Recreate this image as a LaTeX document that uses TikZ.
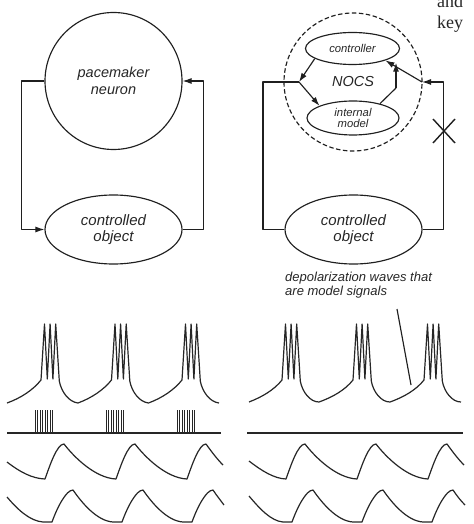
\documentclass[tikz,border=0pt]{standalone}
\usepackage{fontspec}
\setmainfont{Liberation Serif}
\setsansfont{Liberation Sans}
\usetikzlibrary{shapes.geometric,arrows.meta,calc}
\begin{document}
\begin{tikzpicture}[x=1bp,y=-1bp,line join=round,
  ln/.style={line width=1.15bp,draw=black!88},
  arr/.style={ln,-{Latex[length=9bp,width=6bp]}},
  wave/.style={line width=1.2bp,draw=black!85,line join=round},
  big/.style={font=\sffamily\itshape\fontsize{14.5bp}{17bp}\selectfont,text=black!85,align=center,inner sep=0pt},
  co/.style={big,font=\sffamily\itshape\fontsize{15bp}{16bp}\selectfont},
  small/.style={font=\sffamily\itshape\fontsize{11.3bp}{11bp}\selectfont,text=black!85,align=center,inner sep=0pt},
  elli/.style={ellipse,ln,inner sep=0pt},
  note/.style={font=\sffamily\itshape\fontsize{13bp}{14bp}\selectfont,text=black!85,inner sep=0pt,anchor=base west},
  serif/.style={font=\fontsize{18bp}{20bp}\selectfont,text=black!85,inner sep=0pt,anchor=base west}]
\useasboundingbox (0,0) rectangle (474,524);
\clip (0,0) rectangle (474,524);
% ---------- left control loop
\node[circle,ln,minimum size=137bp,big] (pn) at (113.5,81) {pacemaker\\neuron};
\node[elli,co,minimum width=137bp,minimum height=69bp] (co1) at (113.5,229.5) {controlled\\object};
\draw[arr] (pn.west) -- ++(-23,0) |- (co1.west);
\draw[arr] (co1.east) -- ++(21,0) |- (pn.east);
% ---------- right control loop
\node[circle,ln,dash pattern=on 4.5bp off 2.5bp,minimum size=138bp] (nocs) at (353,82) {};
\node[elli,small,minimum width=94bp,minimum height=32bp] (ctl) at (352.5,48.5) {controller};
\node[elli,small,minimum width=92bp,minimum height=34bp] (im) at (353,118) {internal\\model};
\node[big] (nt) at (353,82) {NOCS};
\node[elli,co,minimum width=137bp,minimum height=69bp] (co2) at (353.5,229.5) {controlled\\object};
\coordinate (J1) at (299,82);
\coordinate (J2) at (422,82);
\coordinate (K1) at (396,88);
\draw[arr] (ctl.195) -- (J1);
\draw[arr] (J1) -- (im.160);
\draw[ln] (J1) -- ++(-36,0) coordinate (L1) |- (co2.west);
\draw[arr] (co2.east) -- ++(21,0) coordinate (R1) |- (J2);
\draw[arr] (J2) -- (ctl.-20);
\draw[ln] (im.28) -- (K1);
\draw[arr] (K1) -- (K1 |- ctl.-30);
\coordinate (X0) at (444,131);
\draw[line width=1.4bp,draw=black!88] ($(X0)+(-11,-12)$) -- ($(X0)+(11,12)$);
\draw[line width=1.4bp,draw=black!88] ($(X0)+(-11,12)$) -- ($(X0)+(11,-12)$);
% ---------- cropped page text
\node[serif] (and) at (437,8) {and};
\node[serif] (key) at (437,29) {key};
% ---------- annotation
\node[note] (n1) at (285,281) {depolarization waves that};
\node[note] (n2) at (285,295) {are model signals};
\coordinate (P1) at (397,309);
\coordinate (P2) at (411,385);
\draw[ln] (P1) -- (P2);
% ---------- waveforms left
\draw[wave] (7,403) \foreach \b in {41,111.5,182} { .. controls ({\b-20},398) and ({\b-8},390) .. (\b,380) -- ({\b+3.5},324) -- ({\b+6.3},379) -- ({\b+9.1},324) -- ({\b+11.9},379) -- ({\b+14.7},324) -- ({\b+18.3},381) .. controls ({\b+20.3},392) and ({\b+28},402) .. ({\b+37},403) };
\draw[wave] (7,433) -- (221,433);
\foreach \b in {35,106,177} \foreach \i in {0,...,7} \draw[line width=0.8bp,black!85] ({\b+\i*2.5},433) -- ++(0,-23);
\draw[wave] (7,462) .. controls (20,472) and (32,478.5) .. (45,479)
  \foreach \t in {45,116} { .. controls ({\t+5},465) and ({\t+12},444) .. ({\t+19},444) .. controls ({\t+29},457) and ({\t+50},478) .. ({\t+71},479) }
  .. controls (192,465) and (199,444) .. (206,444) .. controls (211,451) and (217,459) .. (223,465);
\draw[wave] (7,497) .. controls (18,510) and (30,521) .. (43,522) -- (52,522)
  \foreach \t in {52,122} { .. controls ({\t+5},508) and ({\t+14},490) .. ({\t+21},490) .. controls ({\t+30},503) and ({\t+45},521) .. ({\t+61},522) -- ({\t+70},522) }
  .. controls (197,508) and (206,490) .. (213,490) .. controls (217,496) and (221,501) .. (224,505);
% ---------- waveforms right
\draw[wave] (249,402) \foreach \b in {282,353,424} { .. controls ({\b-20},397) and ({\b-8},390) .. (\b,380) -- ({\b+3.5},324) -- ({\b+6.3},379) -- ({\b+9.1},324) -- ({\b+11.9},379) -- ({\b+14.7},324) -- ({\b+18.3},381) .. controls ({\b+20.3},392) and ({\b+28},402) .. ({\b+37},402) };
\draw[wave] (247,433) -- (463,433);
\draw[wave] (249,461) .. controls (262,471) and (274,478.5) .. (286,479)
  \foreach \t in {286,357} { .. controls ({\t+5},465) and ({\t+12},444) .. ({\t+19},444) .. controls ({\t+29},457) and ({\t+50},478) .. ({\t+71},479) }
  .. controls (433,465) and (440,444) .. (447,444) .. controls (452,451) and (458,459) .. (464,465);
\draw[wave] (249,496) .. controls (260,509) and (271,521) .. (283,522) -- (292,522)
  \foreach \t in {292,362} { .. controls ({\t+5},508) and ({\t+14},490) .. ({\t+21},490) .. controls ({\t+30},503) and ({\t+45},521) .. ({\t+61},522) -- ({\t+70},522) }
  .. controls (437,508) and (446,490) .. (453,490) .. controls (457,496) and (461,501) .. (465,505);
\end{tikzpicture}
\end{document}
